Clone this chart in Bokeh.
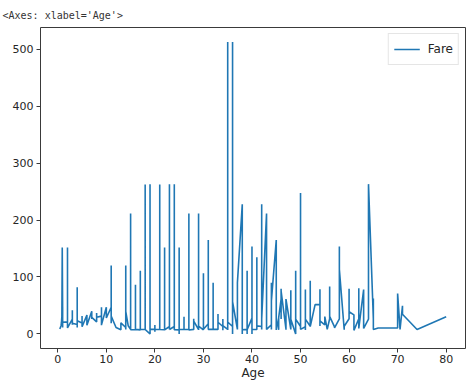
from bokeh.plotting import figure
from bokeh.models import Range1d, FixedTicker, ColumnDataSource, Legend, LegendItem
from bokeh.embed import file_html
from bokeh.resources import INLINE

# Titanic passengers sorted by Age (values read/estimated from the picture)
age_groups = [
    (0.42, [8.52]), (0.67, [14.5]), (0.75, [19.26, 19.26]), (0.83, [29.0, 18.75]),
    (0.92, [151.55]),
    (1, [39.69, 11.13, 39.0, 46.9, 15.74, 20.58]),
    (2, [21.08, 29.13, 151.55, 27.9, 39.69, 10.46]),
    (3, [26.0, 41.58, 15.9, 31.39, 21.08, 18.75]),
    (4, [16.7, 29.13, 11.13, 39.0, 22.03, 81.86, 13.42, 27.9, 23.0]),
    (5, [19.26, 27.75, 31.39, 12.48]),
    (6, [33.0, 31.28, 15.25]),
    (7, [39.69, 26.25, 29.13]),
    (8, [21.08, 26.25, 36.75, 29.13]),
    (9, [31.28, 20.53, 27.9, 46.9, 15.25, 31.39, 34.38, 15.9]),
    (10, [46.9, 27.9]),
    (11, [46.9, 18.79, 120.0, 31.28]),
    (12, [11.24]),
    (13, [7.23, 19.5]),
    (14, [11.24, 30.07, 7.85, 120.0, 39.69]),
    (14.5, [14.45]),
    (15, [8.03, 7.23, 14.45, 211.34, 7.23]),
    (16, [7.75, 18.0, 9.22, 26.0, 57.98, 86.5, 7.65, 10.5, 39.4, 8.05]),
    (17, [7.13, 7.93, 57.0, 110.88, 7.23, 10.5, 8.66, 14.46, 7.9]),
    (18, [7.75, 262.38, 11.5, 9.35, 7.78, 17.8, 7.8, 13.0, 8.3, 14.45, 6.5, 18.0, 9.84, 7.8]),
    (19, [0.0, 7.9, 263.0, 8.05, 10.17, 7.65, 30.0, 26.0, 6.75, 7.85, 36.75, 7.78, 14.5, 8.16]),
    (20, [8.05, 7.85, 9.85, 9.23, 7.93, 9.5, 7.05, 4.01, 7.23, 8.05, 15.74, 7.92]),
    (21, [7.8, 8.05, 11.5, 7.25, 262.38, 7.73, 8.66, 10.5, 7.75, 34.38, 16.1, 7.65]),
    (22, [7.25, 7.75, 10.52, 151.55, 9.0, 7.8, 13.0, 7.52, 8.05, 9.35, 7.9, 7.13]),
    (23, [13.0, 7.85, 263.0, 10.5, 15.05, 8.05, 7.55, 7.75]),
    (24, [13.0, 7.14, 263.0, 16.7, 7.85, 13.0, 8.05, 7.5]),
    (25, [7.05, 26.0, 151.55, 7.78, 0.0, 7.25, 17.8, 13.0, 81.86, 7.9, 26.0, 7.74]),
    (26, [7.92, 8.66, 7.78, 14.45, 30.0, 8.05, 7.75, 13.0, 16.1, 7.85]),
    (27, [7.92, 211.5, 10.5, 7.23, 13.0, 7.79, 14.45, 83.16, 7.85, 6.98]),
    (28, [7.9, 8.05, 26.55, 9.5, 7.9, 13.0, 10.5, 7.75, 22.53]),
    (29, [7.75, 211.34, 10.46, 9.48, 7.88, 26.0, 21.08, 7.05, 13.86]),
    (30, [7.23, 106.42, 8.66, 13.0, 31.0, 12.48, 7.75, 24.15, 8.05]),
    (31, [18.0, 7.78, 164.87, 26.0, 7.85, 20.53, 78.0, 8.05]),
    (32, [7.93, 8.05, 30.5, 7.75, 90.0, 13.0, 7.58, 15.5, 8.36]),
    (33, [7.9, 9.5, 12.28, 26.0, 7.9, 35.0, 20.53]),
    (34, [13.0, 26.0, 6.5, 8.05, 23.0, 10.5, 21.0, 14.4]),
    (35, [8.05, 26.0, 512.33, 7.05, 10.5, 21.0]),
    (36, [13.0, 27.75, 0.0, 512.33, 7.5, 26.39, 40.13, 12.88, 49.5, 56.5]),
    (37, [7.93, 53.1, 26.0, 29.7, 7.75, 90.0]),
    (38, [227.53, 7.9, 31.39, 0.0, 80.0, 7.23]),
    (39, [7.92, 110.88, 26.0, 31.28, 0.0, 13.42, 24.15, 7.23]),
    (40, [27.72, 153.46, 9.48, 31.0, 0.0, 39.0, 7.23, 15.5, 26.0, 7.9]),
    (41, [7.85, 134.5, 20.21, 15.05, 14.11]),
    (42, [13.0, 52.0, 227.53, 26.55, 8.4, 7.55, 32.5, 7.65, 26.29]),
    (43, [211.34, 8.05, 26.25, 46.9, 7.9]),
    (44, [16.1, 90.0, 7.93, 26.0, 57.98]),
    (45, [164.87, 26.25, 8.05, 14.45, 7.75, 35.5, 13.5, 6.98, 27.9]),
    (45.5, [7.23, 28.5]),
    (46, [61.18, 79.2, 26.0, 75.24]),
    (47, [9.0, 52.0, 15.0, 38.5, 7.25, 34.02, 14.5, 25.59, 61.18]),
    (48, [7.85, 34.38, 76.73, 65.0, 26.55, 13.0, 52.0, 39.6, 25.93]),
    (49, [0.0, 76.73, 56.93, 89.1, 110.88, 26.0]),
    (50, [13.0, 28.71, 133.65, 247.52, 26.0, 106.42, 10.5, 13.0, 55.9, 8.05]),
    (51, [12.53, 61.38, 26.55, 7.05, 77.96, 8.05, 26.0]),
    (52, [13.5, 78.27, 30.5, 79.65, 93.5, 13.0]),
    (53, [51.48]),
    (54, [51.86, 26.0, 77.29, 14.0, 59.4, 78.27, 23.0]),
    (55, [16.0, 30.5]),
    (55.5, [8.05]),
    (56, [26.55, 83.16, 35.5, 30.7]),
    (57, [12.35, 10.5]),
    (58, [26.55, 153.46, 29.7, 113.28]),
    (59, [7.25, 13.5]),
    (60, [26.55, 79.2, 75.25, 39.0]),
    (61, [33.5, 32.32, 6.24]),
    (62, [26.55, 80.0, 10.5, 9.69]),
    (63, [77.96, 9.59]),
    (64, [26.0, 263.0]),
    (65, [26.55, 61.98, 7.75]),
    (66, [10.5]),
    (70, [10.5, 71.0]),
    (70.5, [7.75]),
    (71, [49.5, 34.65]),
    (74, [7.78]),
    (80, [30.0]),
]

ages = []
fares = []
for a, fs in age_groups:
    for f in fs:
        ages.append(a)
        fares.append(f)

x_ticks = [0, 10, 20, 30, 40, 50, 60, 70, 80]
y_ticks = [0, 100, 200, 300, 400, 500]

src = ColumnDataSource(dict(Age=ages, Fare=fares))

p = figure(width=466, height=382, output_backend="svg", toolbar_location=None,
           x_range=Range1d(-3.56, 83.98), y_range=Range1d(-25.6, 538.0),
           min_border_left=40, min_border_right=1, min_border_top=0, min_border_bottom=0)

p.title.text = "<Axes: xlabel='Age'>"
p.title.text_font = "DejaVu Sans Mono"
p.title.text_font_size = "10px"
p.title.text_font_style = "normal"
p.title.text_color = "#333333"
p.title.align = "left"
p.title.offset = -38
p.title.standoff = 14

r = p.line("Age", "Fare", source=src, line_color="#1f77b4", line_width=1.6)

p.xgrid.visible = False
p.ygrid.visible = False
p.outline_line_color = "#3a3a3a"
p.outline_line_width = 1

for ax in (p.xaxis[0], p.yaxis[0]):
    ax.axis_line_color = None
    ax.major_tick_line_color = "#3a3a3a"
    ax.major_tick_out = 4
    ax.major_tick_in = 0
    ax.minor_tick_line_color = None
    ax.major_label_text_font = "DejaVu Sans"
    ax.major_label_text_font_size = "11px"
    ax.major_label_text_color = "#262626"
    ax.major_label_standoff = 3

p.xaxis.major_label_standoff = 2
p.xaxis.ticker = FixedTicker(ticks=x_ticks)
p.yaxis.ticker = FixedTicker(ticks=y_ticks)
p.xaxis.axis_label = "Age"
p.xaxis.axis_label_text_font = "DejaVu Sans"
p.xaxis.axis_label_text_font_size = "12px"
p.xaxis.axis_label_text_font_style = "normal"
p.xaxis.axis_label_text_color = "#262626"
p.xaxis.axis_label_standoff = 0

legend = Legend(items=[LegendItem(label="Fare", renderers=[r])], location="top_right")
legend.label_text_font = "DejaVu Sans"
legend.label_text_font_size = "12px"
legend.label_text_color = "#262626"
legend.border_line_color = "#cccccc"
legend.border_line_width = 1
legend.background_fill_alpha = 0.8
legend.glyph_width = 26
legend.padding = 5
legend.spacing = 0
legend.margin = 6
legend.label_standoff = 8
p.add_layout(legend)

open("out.html", "w").write(file_html(p, INLINE))
